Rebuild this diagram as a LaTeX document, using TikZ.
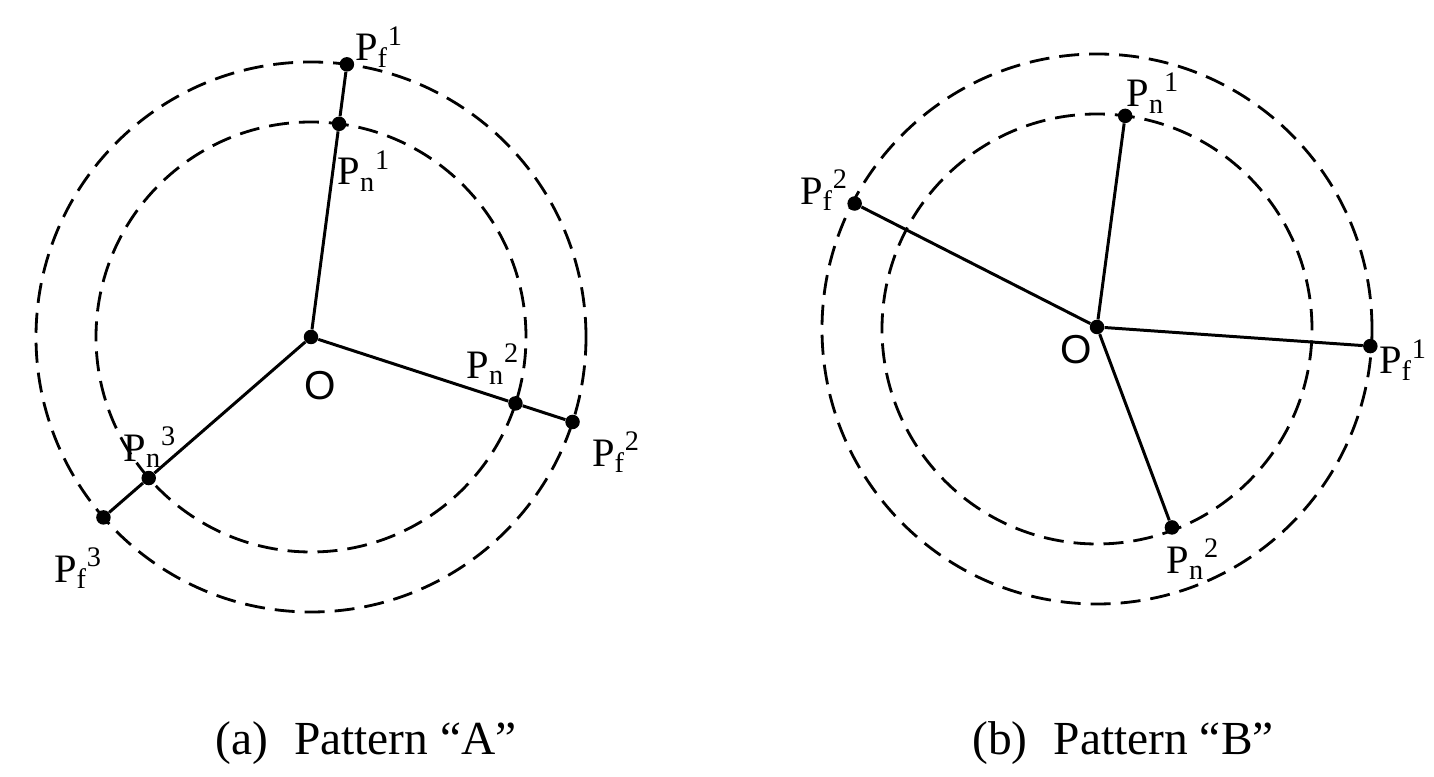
\documentclass[tikz,border=0pt]{standalone}
\usepackage{fontspec}
\setmainfont{Liberation Serif}
\newfontfamily\osans{Liberation Sans}
\usetikzlibrary{positioning}

\newcommand{\Plbl}[2]{P\textsubscript{#1}\textsuperscript{#2}}

\begin{document}
\begin{tikzpicture}[
    x=0.02cm, y=0.02cm,
    pt/.style={circle, fill=black, inner sep=0pt, minimum size=2.9mm},
    ring/.style={line width=1.6pt, dash pattern=on 0.4cm off 0.2cm},
    spoke/.style={line width=1.7pt},
    lbl/.style={inner sep=0pt, font=\fontsize{23}{27}\selectfont},
    olbl/.style={inner sep=0pt, font=\osans\fontsize{23}{27}\selectfont},
    captext/.style={inner sep=0pt, anchor=base, font=\fontsize{27}{32}\selectfont}
  ]
    \useasboundingbox (0,0) rectangle (1434,777);
    % Pattern "A" (left)
    \begin{scope}[shift={(311,440)}]
      \draw[ring] (0,0) circle[radius=275];
      \draw[ring] (0,0) circle[radius=215];
      \node[pt] (Oa) at (0,0) {};
      \node[pt] (Pn1a) at (82.5:215) {};
      \node[pt] (Pf1a) at (82.5:275) {};
      \node[pt] (Pn2a) at (-18:215) {};
      \node[pt] (Pf2a) at (-18:275) {};
      \node[pt] (Pn3a) at (-139:215) {};
      \node[pt] (Pf3a) at (-139:275) {};
      % spokes
      \draw[spoke] (Oa) -- (Pn1a) -- (Pf1a);
      \draw[spoke] (Oa) -- (Pn2a) -- (Pf2a);
      \draw[spoke] (Oa) -- (Pn3a) -- (Pf3a);
      % labels
      \node[olbl] (Oalbl) at (9,-49) {O};
      \node[lbl] (Pf1albl) at (68,290) {\Plbl{f}{1}};
      \node[lbl] (Pn1albl) at (53,166) {\Plbl{n}{1}};
      \node[lbl] (Pn2albl) at (182,-27) {\Plbl{n}{2}};
      \node[lbl] (Pf2albl) at (305,-115) {\Plbl{f}{2}};
      \node[lbl] (Pn3albl) at (-161,-110) {\Plbl{n}{3}};
      \node[lbl] (Pf3albl) at (-233,-231) {\Plbl{f}{3}};
      \node[captext] (capa) at (55,-418) {(a)\hskip0.55em Pattern \textquotedblleft A\textquotedblright};
    \end{scope}
    % Pattern "B" (right)
    \begin{scope}[shift={(1097,450)}]
      \draw[ring] (0,-2) circle[radius=275];
      \draw[ring] (0,-2) circle[radius=215];
      \node[pt] (Ob) at (0,0) {};
      \node[pt] (Pn1b) at (82.4:213) {};
      \node[pt] (Pf2b) at (153:272) {};
      \node[pt] (Pf1b) at (-4:274) {};
      \node[pt] (Pn2b) at (-69.5:214) {};
      % spokes
      \draw[spoke] (Ob) -- (Pn1b);
      \draw[spoke] (Ob) -- (Pf2b);
      \draw[spoke] (Ob) -- (Pf1b);
      \draw[spoke] (Ob) -- (Pn2b);
      % labels
      \node[olbl] (Oblbl) at (-21,-23) {O};
      \node[lbl] (Pn1blbl) at (56,234) {\Plbl{n}{1}};
      \node[lbl] (Pf2blbl) at (-273,137) {\Plbl{f}{2}};
      \node[lbl] (Pf1blbl) at (306,-33) {\Plbl{f}{1}};
      \node[lbl] (Pn2blbl) at (96,-232) {\Plbl{n}{2}};
      \node[captext] (capb) at (26,-428) {(b)\hskip0.55em Pattern \textquotedblleft B\textquotedblright};
    \end{scope}
\end{tikzpicture}
\end{document}
